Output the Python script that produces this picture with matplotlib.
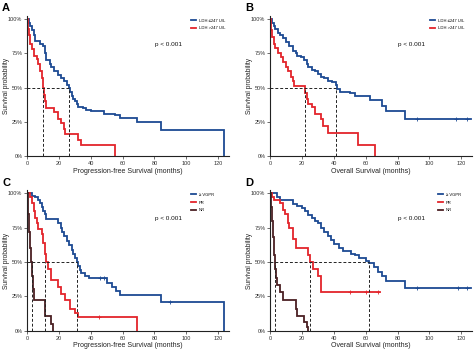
import matplotlib.pyplot as plt
from matplotlib.ticker import FuncFormatter

plt.rcParams['font.family'] = ['Liberation Sans', 'DejaVu Sans']

BLUE = '#1d4a93'
RED = '#e3242b'
DARK = '#4b2023'

# Panel A: progression-free survival by LDH
a_low_t = [0, 1, 2, 3, 4, 5, 8, 10, 11, 12, 14, 15, 17, 19, 21, 23, 25, 26, 27, 28, 29, 30, 31, 32,
           35, 37, 40, 48, 55, 58, 69, 84, 124]
a_low_s = [1.0, 0.97, 0.95, 0.92, 0.88, 0.84, 0.82, 0.80, 0.75, 0.70, 0.67, 0.65, 0.62, 0.59, 0.57,
           0.55, 0.52, 0.50, 0.47, 0.44, 0.42, 0.40, 0.38, 0.36, 0.35, 0.34, 0.33, 0.31, 0.30, 0.28,
           0.25, 0.19, 0.0]
a_high_t = [0, 0.5, 1, 2, 3, 4, 6, 7, 8, 9, 10, 10.5, 11, 12, 17, 19, 21, 23, 24, 32, 34, 55]
a_high_s = [1.0, 0.93, 0.88, 0.82, 0.78, 0.73, 0.71, 0.67, 0.62, 0.57, 0.50, 0.45, 0.40, 0.35,
            0.32, 0.27, 0.24, 0.20, 0.16, 0.12, 0.08, 0.0]

# Panel B: overall survival by LDH
b_low_t = [0, 1, 2, 3, 5, 6, 8, 10, 12, 14, 16, 17, 19, 21, 23, 24, 26, 28, 30, 32, 34, 36, 39, 41,
           42, 44, 50, 53, 63, 70, 73, 85, 126]
b_low_s = [1.0, 0.97, 0.95, 0.93, 0.90, 0.88, 0.86, 0.83, 0.80, 0.77, 0.75, 0.73, 0.72, 0.70, 0.67,
           0.65, 0.63, 0.62, 0.60, 0.58, 0.57, 0.55, 0.54, 0.52, 0.49, 0.47, 0.46, 0.44, 0.41, 0.37,
           0.33, 0.27, 0.27]
b_high_t = [0, 0.5, 1, 2, 3, 5, 7, 8, 10, 11, 13, 14, 15, 22, 23, 24, 26, 28, 32, 33, 36, 55, 66]
b_high_s = [1.0, 0.92, 0.87, 0.82, 0.79, 0.75, 0.72, 0.69, 0.65, 0.62, 0.58, 0.55, 0.51, 0.46,
            0.42, 0.38, 0.36, 0.31, 0.27, 0.22, 0.17, 0.08, 0.0]

# Panel C: progression-free survival by response
c_vgpr_t = [0, 3, 5, 7, 8, 9, 10, 11, 12, 19, 21, 22, 23, 25, 26, 28, 29, 30, 31, 32, 33, 34, 36,
            39, 50, 53, 56, 58, 84, 124]
c_vgpr_s = [1.0, 0.98, 0.97, 0.95, 0.93, 0.90, 0.87, 0.85, 0.81, 0.78, 0.75, 0.72, 0.69, 0.65,
            0.62, 0.59, 0.56, 0.53, 0.50, 0.47, 0.44, 0.42, 0.40, 0.38, 0.35, 0.32, 0.29, 0.26,
            0.21, 0.0]
c_pr_t = [0, 2, 3, 4, 5, 6, 7, 9, 10, 11, 11.5, 13, 15, 19, 21, 24, 27, 30, 32, 69]
c_pr_s = [1.0, 0.97, 0.93, 0.87, 0.82, 0.78, 0.74, 0.70, 0.64, 0.56, 0.50, 0.45, 0.37, 0.32, 0.27,
          0.22, 0.16, 0.13, 0.10, 0.0]
c_nr_t = [0, 0.5, 1, 1.5, 2.5, 3, 3.5, 4, 11, 15, 16]
c_nr_s = [1.0, 0.85, 0.72, 0.60, 0.50, 0.40, 0.30, 0.22, 0.11, 0.05, 0.0]

# Panel D: overall survival by response
d_vgpr_t = [0, 4, 6, 14, 17, 20, 22, 24, 26, 28, 30, 32, 34, 36, 38, 40, 43, 46, 51, 53, 56, 60,
            62, 65, 68, 70, 73, 85, 126]
d_vgpr_s = [1.0, 0.97, 0.95, 0.92, 0.91, 0.89, 0.87, 0.84, 0.82, 0.80, 0.78, 0.75, 0.72, 0.69,
            0.66, 0.63, 0.60, 0.58, 0.56, 0.55, 0.53, 0.51, 0.49, 0.46, 0.43, 0.40, 0.36, 0.31, 0.31]
d_pr_t = [0, 1, 2, 6, 8, 9, 11, 12, 14, 16, 24, 25, 27, 30, 32, 69]
d_pr_s = [1.0, 0.97, 0.95, 0.93, 0.88, 0.85, 0.78, 0.75, 0.67, 0.60, 0.55, 0.50, 0.45, 0.40,
          0.28, 0.28]
d_nr_t = [0, 0.5, 1, 1.5, 2, 3, 3.5, 4, 6, 8, 16, 17, 21, 23, 24]
d_nr_s = [1.0, 0.90, 0.80, 0.68, 0.55, 0.45, 0.38, 0.33, 0.28, 0.22, 0.16, 0.11, 0.06, 0.03, 0.0]

# censor marks (time, survival)
b_low_cens = [(92, 0.27), (117, 0.27), (124, 0.27)]
c_vgpr_cens = [(46, 0.38), (48, 0.38), (90, 0.21)]
c_pr_cens = [(45, 0.10)]
d_vgpr_cens = [(92, 0.31), (118, 0.31), (124, 0.31)]
d_pr_cens = [(50, 0.28), (60, 0.28), (68, 0.28)]

ldh_labels = ['LDH \u2264247 U/L', 'LDH >247 U/L']
resp_labels = ['\u2265 VGPR', 'PR', 'NR']

panels = [
    dict(tag='A', pos=[0.0576, 0.5516], xlabel='Progression-free Survival (months)',
         curves=[(a_low_t, a_low_s, BLUE, []), (a_high_t, a_high_s, RED, [])],
         labels=ldh_labels, medians=[10, 26], leg_x=0.80),
    dict(tag='B', pos=[0.5703, 0.5516], xlabel='Overall Survival (months)',
         curves=[(b_low_t, b_low_s, BLUE, b_low_cens), (b_high_t, b_high_s, RED, [])],
         labels=ldh_labels, medians=[22, 41], leg_x=0.78),
    dict(tag='C', pos=[0.0576, 0.0524], xlabel='Progression-free Survival (months)',
         curves=[(c_vgpr_t, c_vgpr_s, BLUE, c_vgpr_cens), (c_pr_t, c_pr_s, RED, c_pr_cens),
                 (c_nr_t, c_nr_s, DARK, [])],
         labels=resp_labels, medians=[2.7, 11.3, 31.5], leg_x=0.80),
    dict(tag='D', pos=[0.5703, 0.0524], xlabel='Overall Survival (months)',
         curves=[(d_vgpr_t, d_vgpr_s, BLUE, d_vgpr_cens), (d_pr_t, d_pr_s, RED, d_pr_cens),
                 (d_nr_t, d_nr_s, DARK, [])],
         labels=resp_labels, medians=[3, 25, 62], leg_x=0.82),
]

fig = plt.figure(figsize=(4.74, 3.49), dpi=100)
pct = FuncFormatter(lambda v, _: f'{int(round(v * 100))}%')

for p in panels:
    ax = fig.add_axes([p['pos'][0], p['pos'][1], 0.426, 0.402])
    handles = []
    for t, s, col, cens in p['curves']:
        h, = ax.step(t, s, where='post', color=col, lw=1.3, solid_joinstyle='miter')
        handles.append(h)
        if cens:
            ax.plot([c[0] for c in cens], [c[1] for c in cens], '+', color=col, ms=2.5, mew=0.6)

    top = max(p['medians'])
    ax.plot([0, top], [0.5, 0.5], ls=(0, (3, 2)), color='#222222', lw=0.7)
    for m in p['medians']:
        ax.plot([m, m], [0, 0.5], ls=(0, (3, 2)), color='#222222', lw=0.7)

    ax.set_xlim(0, 127)
    ax.set_ylim(0, 1.02)
    ax.set_xticks([0, 20, 40, 60, 80, 100, 120])
    ax.set_yticks([0, 0.25, 0.5, 0.75, 1.0])
    ax.yaxis.set_major_formatter(pct)
    ax.tick_params(labelsize=4, length=2, width=0.5, pad=1.5, colors='#333333')
    for side in ('top', 'right'):
        ax.spines[side].set_visible(False)
    for side in ('left', 'bottom'):
        ax.spines[side].set_linewidth(0.8)
        ax.spines[side].set_color('#222222')
    ax.set_xlabel(p['xlabel'], fontsize=5, labelpad=1, color='#222222')
    ax.set_ylabel('Survival probability', fontsize=4.8, color='#222222')
    ax.yaxis.set_label_coords(-0.088, 0.5)

    ax.legend(handles, p['labels'], loc='upper left', bbox_to_anchor=(p['leg_x'], 1.0),
              fontsize=3, frameon=False, handlelength=1.2, handletextpad=0.6,
              labelspacing=0.9, borderaxespad=0.2)
    ax.text(0.63, 0.79, 'p < 0.001', transform=ax.transAxes, fontsize=4.6, color='#111111')

    ax.text(-0.125, 1.055, p['tag'], transform=ax.transAxes, fontsize=8, fontweight='bold',
            va='center', ha='left')

fig.savefig('out.png', dpi=100)
